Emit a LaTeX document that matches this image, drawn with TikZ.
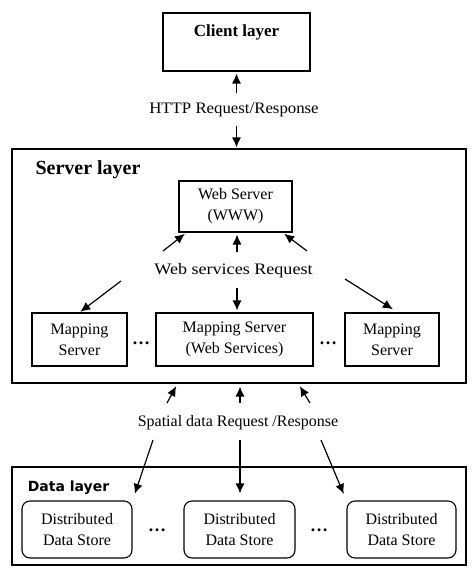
\documentclass[tikz,border=0pt]{standalone}
\usepackage{fontspec}
\setmainfont{Liberation Serif}
\newfontfamily\dlfont{DejaVu Sans}
\usetikzlibrary{arrows.meta}
\begin{document}
\begin{tikzpicture}[x=1pt,y=-1pt,
  box/.style={draw, line width=1.1pt, inner sep=0pt, align=center, font=\fontsize{16}{21}\selectfont},
  store/.style={box, rounded corners=8pt},
  layer/.style={draw, line width=1.1pt, inner sep=0pt},
  lbl/.style={font=\fontsize{16}{21}\selectfont, inner sep=0pt},
  dots/.style={font=\fontsize{18}{21}\selectfont\bfseries, inner sep=0pt},
  arr/.style={line width=1.2pt, -{Latex[length=10pt,width=9pt]}},
]
\useasboundingbox[fill=white] (0,0) rectangle (474,571);

% client layer
\node[layer, minimum width=147pt, minimum height=58pt] (client) at (236.5,42) {};
\node[lbl, font=\fontsize{17}{20}\selectfont\bfseries] (clientlbl) at (236.5,32) {Client layer};
\node[lbl] (http) at (234,110) {\scalebox{1.05}[1]{HTTP Request/Response}};

% server layer
\node[layer, minimum width=454pt, minimum height=234pt] (server) at (239,266) {};
\node[lbl, font=\fontsize{20}{22}\selectfont\bfseries] (serverlbl) at (88,170) {Server layer};
\node[box, minimum width=113pt, minimum height=51pt] (web) at (235.5,206.5) {Web Server\\(WWW)};
\node[lbl] (wsr) at (233.5,271) {\scalebox{1.13}[1]{Web services Request}};
\node[box, minimum width=95pt, minimum height=53pt] (mapL) at (79.5,339.5) {Mapping\\Server};
\node[box, minimum width=157pt, minimum height=53pt] (mapM) at (234.5,339.5) {Mapping Server\\(Web Services)};
\node[box, minimum width=94pt, minimum height=53pt] (mapR) at (392,339.5) {Mapping\\Server};
\node[dots] (dotsA) at (141,343) {\dots};
\node[dots] (dotsB) at (328,343) {\dots};

\node[lbl] (sdr) at (238,423) {Spatial data Request /Response};

% data layer
\node[layer, minimum width=454pt, minimum height=98pt] (data) at (239,516) {};
\node[lbl, font=\dlfont\bfseries\fontsize{14}{16}\selectfont] (datalbl) at (68.5,488) {Data layer};
\node[store, minimum width=110pt, minimum height=57pt] (dds1) at (77,529.5) {Distributed\\Data Store};
\node[store, minimum width=111pt, minimum height=57pt] (dds2) at (239.5,529.5) {Distributed\\Data Store};
\node[store, minimum width=109pt, minimum height=57pt] (dds3) at (401.5,529.5) {Distributed\\Data Store};
\node[dots] (dotsC) at (157,530) {\dots};
\node[dots] (dotsD) at (319,530) {\dots};

% HTTP arrows
\coordinate (ht1) at (236.5,93);
\coordinate (ht2) at (236.5,126);
\draw[arr, shorten >=2pt] (ht1) -- (client.south);
\draw[arr, shorten >=1pt] (ht2) -- (ht2 |- server.north);

% web services arrows
\coordinate (wa1) at (163,251);
\coordinate (wa2) at (237,252);
\coordinate (wa3) at (307,251);
\draw[arr, shorten >=2pt] (wa1) -- ([xshift=8pt]web.south west);
\draw[arr, shorten >=2pt] (wa2) -- (wa2 |- web.south);
\draw[arr, shorten >=2pt] (wa3) -- ([xshift=-10pt]web.south east);

\coordinate (wb1) at (121,281);
\coordinate (wb2) at (237,288);
\coordinate (wb3) at (345,279);
\draw[arr, shorten >=1pt] (wb1) -- (mapL.north);
\draw[arr, shorten >=2pt] (wb2) -- (wb2 |- mapM.north);
\draw[arr, shorten >=6pt] (wb3) -- ([xshift=6pt]mapR.north);

% spatial arrows up
\coordinate (sa1) at (167,403);
\coordinate (sa2) at (240,403);
\coordinate (sa3) at (310,403);
\draw[arr, shorten >=3pt] (sa1) -- ([xshift=-61.4pt]server.south);
\draw[arr, shorten >=3pt] (sa2) -- (sa2 |- server.south);
\draw[arr, shorten >=3pt] (sa3) -- ([xshift=59.2pt]server.south);

% spatial arrows down
\coordinate (sb1) at (153,440);
\coordinate (sb2) at (240,440);
\coordinate (sb3) at (321,440);
\draw[arr, shorten >=7pt] (sb1) -- (dds1.north east);
\draw[arr, shorten >=7pt] (sb2) -- (sb2 |- dds2.north);
\draw[arr, shorten >=7pt] (sb3) -- (dds3.north west);
\end{tikzpicture}
\end{document}
